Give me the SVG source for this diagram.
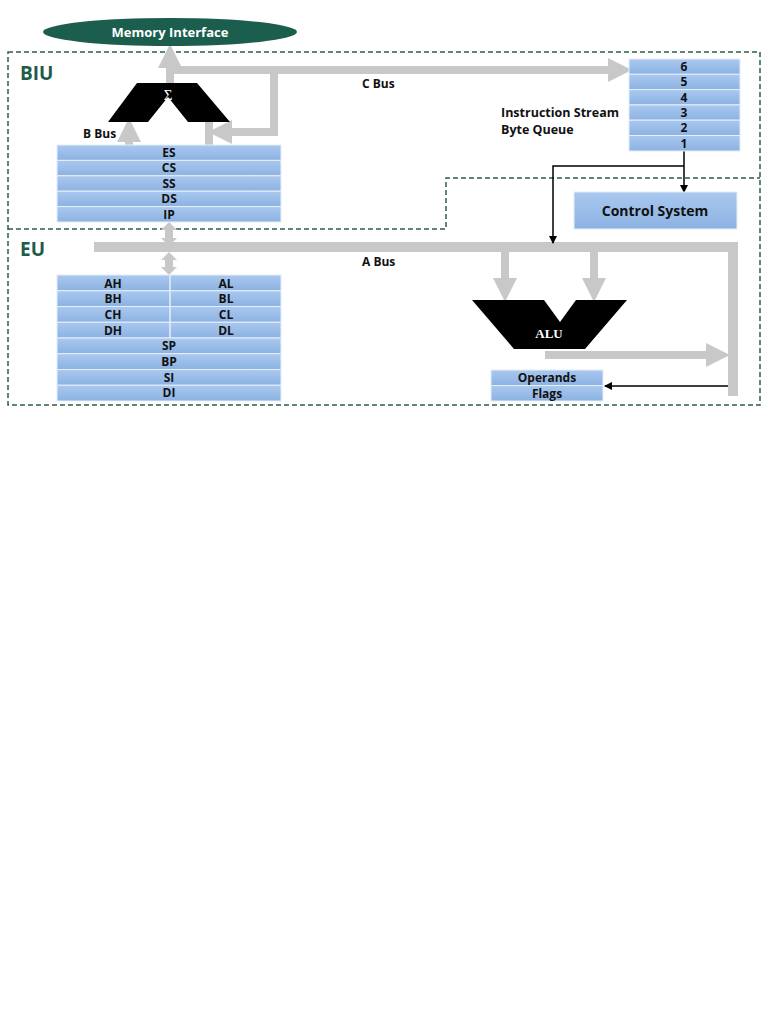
<svg xmlns="http://www.w3.org/2000/svg" width="768" height="1024" viewBox="0 0 768 1024">
<style>
text{font-family:"Open Sans","Liberation Sans",sans-serif;font-weight:bold;fill:#111}
.r{font-size:12px;text-anchor:middle}
.reg{fill:url(#bg);stroke:#e6eefa;stroke-width:1}
.bus{stroke:#c8c8c8;fill:none}
.blk{stroke:#000;stroke-width:1.5;fill:none}
.dash{fill:none;stroke:#2a5e4a;stroke-width:1.5;stroke-dasharray:5,3}
</style>
<defs>
<linearGradient id="bg" x1="0" y1="0" x2="0" y2="1"><stop offset="0" stop-color="#a9c8ef"/><stop offset="1" stop-color="#8cb2e2"/></linearGradient>
<marker id="ga" markerWidth="3" markerHeight="3" refX="1.5" refY="1.5" orient="auto" markerUnits="strokeWidth"><path d="M0,0L3,1.5L0,3z" fill="#c8c8c8"/></marker>
<marker id="ba" markerWidth="8" markerHeight="8" refX="7" refY="4" orient="auto" markerUnits="userSpaceOnUse"><path d="M0,0L8,4L0,8z" fill="#000"/></marker>
</defs>
<rect width="768" height="1024" fill="#fff"/>
<g id="boundaries">
<rect class="dash" x="8" y="52" width="752" height="353"/>
<polyline class="dash" points="8,229 446,229 446,178 760,178"/>
<text x="20" y="80" style="font-size:19px;fill:#1f5a4a">BIU</text>
<text x="20" y="256" style="font-size:19px;fill:#1f5a4a">EU</text>
</g>
<g id="connectors">
<line class="bus" x1="170" y1="84" x2="170" y2="56" stroke-width="8" marker-end="url(#ga)"/>
<polyline class="bus" points="166,70 620,70" stroke-width="8" marker-end="url(#ga)"/>
<polyline class="bus" points="274,70 274,132 220,132" stroke-width="8" marker-end="url(#ga)"/>
<line class="bus" x1="209" y1="145" x2="209" y2="122" stroke-width="8"/>
<line class="bus" x1="129" y1="145" x2="129" y2="130" stroke-width="8" marker-end="url(#ga)"/>
<line class="bus" x1="169" y1="230" x2="169" y2="238" stroke-width="8"/>
<path d="M169,222 L161,230 L177,230 Z M169,246 L161,238 L177,238 Z" fill="#c8c8c8"/>
<line class="bus" x1="169" y1="260" x2="169" y2="267" stroke-width="8"/>
<path d="M169,252 L161,260 L177,260 Z M169,275 L161,267 L177,267 Z" fill="#c8c8c8"/>
<polyline class="bus" points="94,247 733,247 733,396" stroke-width="10"/>
<line class="bus" x1="505" y1="252" x2="505" y2="290" stroke-width="8" marker-end="url(#ga)"/>
<line class="bus" x1="594" y1="252" x2="594" y2="290" stroke-width="8" marker-end="url(#ga)"/>
<line class="bus" x1="545" y1="355" x2="718" y2="355" stroke-width="8" marker-end="url(#ga)"/>
<line class="blk" x1="684" y1="151" x2="684" y2="192" marker-end="url(#ba)"/>
<polyline class="blk" points="684,166 553,166 553,243" marker-end="url(#ba)"/>
<line class="blk" x1="728" y1="386" x2="605" y2="386" marker-end="url(#ba)"/>
<text x="362" y="88" style="font-size:12px">C Bus</text>
<text x="83" y="138" style="font-size:12px">B Bus</text>
<text x="362" y="266" style="font-size:12px">A Bus</text>
</g>
<g id="memory">
<ellipse cx="170" cy="32" rx="127" ry="14" fill="#1c5e4e"/>
<text x="170" y="37" class="r" style="fill:#fff;font-size:13px">Memory Interface</text>
</g>
<g id="sigma">
<polygon points="137,83 197,83 230,122 188,122 168,97 148,122 108,122" fill="#000"/>
<text x="168" y="100" style="font-family:'Liberation Serif',serif;font-weight:normal;fill:#fff;font-size:15px" text-anchor="middle">Σ</text>
</g>
<g id="segregs">
<rect class="reg" x="57" y="145" width="224" height="15.4"/><text class="r" x="169" y="157">ES</text>
<rect class="reg" x="57" y="160.4" width="224" height="15.4"/><text class="r" x="169" y="172">CS</text>
<rect class="reg" x="57" y="175.8" width="224" height="15.4"/><text class="r" x="169" y="188">SS</text>
<rect class="reg" x="57" y="191.2" width="224" height="15.4"/><text class="r" x="169" y="203">DS</text>
<rect class="reg" x="57" y="206.6" width="224" height="15.4"/><text class="r" x="169" y="219">IP</text>
</g>
<g id="gpregs">
<rect class="reg" x="57" y="275" width="224" height="15.75"/>
<rect class="reg" x="57" y="290.75" width="224" height="15.75"/>
<rect class="reg" x="57" y="306.5" width="224" height="15.75"/>
<rect class="reg" x="57" y="322.25" width="224" height="15.75"/>
<rect class="reg" x="57" y="338" width="224" height="15.75"/>
<rect class="reg" x="57" y="353.75" width="224" height="15.75"/>
<rect class="reg" x="57" y="369.5" width="224" height="15.75"/>
<rect class="reg" x="57" y="385.25" width="224" height="15.75"/>
<line x1="170" y1="275" x2="170" y2="338" stroke="#e6eefa" stroke-width="1.5"/>
<text class="r" x="113" y="288">AH</text><text class="r" x="226" y="288">AL</text>
<text class="r" x="113" y="303">BH</text><text class="r" x="226" y="303">BL</text>
<text class="r" x="113" y="319">CH</text><text class="r" x="226" y="319">CL</text>
<text class="r" x="113" y="335">DH</text><text class="r" x="226" y="335">DL</text>
<text class="r" x="169" y="350">SP</text>
<text class="r" x="169" y="366">BP</text>
<text class="r" x="169" y="382">SI</text>
<text class="r" x="169" y="397">DI</text>
</g>
<g id="queue">
<rect class="reg" x="629" y="59" width="111" height="15.3"/><text class="r" x="684" y="71">6</text>
<rect class="reg" x="629" y="74.3" width="111" height="15.3"/><text class="r" x="684" y="86">5</text>
<rect class="reg" x="629" y="89.6" width="111" height="15.3"/><text class="r" x="684" y="102">4</text>
<rect class="reg" x="629" y="104.9" width="111" height="15.3"/><text class="r" x="684" y="117">3</text>
<rect class="reg" x="629" y="120.2" width="111" height="15.3"/><text class="r" x="684" y="132">2</text>
<rect class="reg" x="629" y="135.5" width="111" height="15.5"/><text class="r" x="684" y="148">1</text>
<text x="501" y="117" style="font-size:12.5px">Instruction Stream</text>
<text x="501" y="134" style="font-size:12.5px">Byte Queue</text>
</g>
<g id="control">
<rect class="reg" x="574" y="192" width="163" height="37"/>
<text class="r" x="655" y="216" style="font-size:14px">Control System</text>
</g>
<g id="alu">
<polygon points="472,300 544,300 560,322 576,300 627,300 585,349 514,349" fill="#000"/>
<text x="549" y="338" text-anchor="middle" style="font-family:'Liberation Serif',serif;fill:#fff;font-size:13px">ALU</text>
</g>
<g id="operands">
<rect class="reg" x="491" y="370" width="112" height="15.5"/><text class="r" x="547" y="382">Operands</text>
<rect class="reg" x="491" y="385.5" width="112" height="15.5"/><text class="r" x="547" y="398">Flags</text>
</g>
</svg>
